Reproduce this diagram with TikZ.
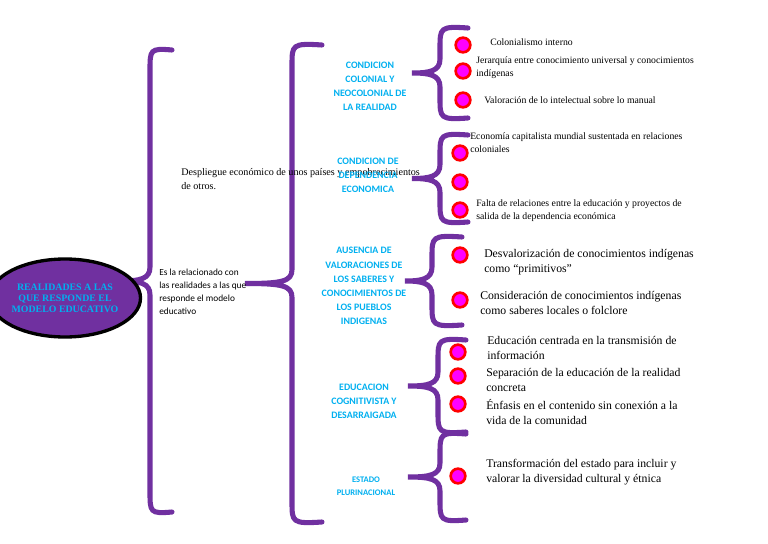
\documentclass[tikz,border=0pt]{standalone}
\usepackage{fontspec}
\setmainfont{Liberation Serif}
\newfontfamily\carlitofont{Carlito}
\usetikzlibrary{shapes.geometric}
\definecolor{purp}{HTML}{7030A0}
\definecolor{cyanb}{HTML}{00B0F0}
\definecolor{mag}{HTML}{FF00FF}
\newcommand{\mybrace}[5]{% x, top, bottom, tipx, endx
 \draw[purp,line width=3.8pt,line cap=round] (#5,#2) .. controls (#1,#2-2) and (#1,#2) .. (#1,#2+20)
  -- (#1,{(#2+#3)/2-14}) .. controls (#1,{(#2+#3)/2-2}) and (#1-10,{(#2+#3)/2}) .. (#4,{(#2+#3)/2})
  .. controls (#1-10,{(#2+#3)/2}) and (#1,{(#2+#3)/2+2}) .. (#1,{(#2+#3)/2+14})
  -- (#1,#3-20) .. controls (#1,#3) and (#1,#3+2) .. (#5,#3);}
\begin{document}
\begin{tikzpicture}[x=0.75pt,y=-0.75pt,
 cat/.style={text=cyanb,font=\carlitofont\bfseries\fontsize{7.4}{10.6}\selectfont,align=center},
 sm/.style={font=\fontsize{7.3}{9.6}\selectfont,align=left,anchor=west,inner sep=0},
 bg/.style={font=\fontsize{8.8}{11.6}\selectfont,align=left,anchor=west,inner sep=0},
 dot/.style={circle,draw=red,fill=mag,line width=2pt,minimum size=11pt,inner sep=0}]
\useasboundingbox (0,0) rectangle (768,543);
\fill[white] (0,0) rectangle (768,543);
\mybrace{150}{50}{512}{120}{172}
\mybrace{292}{45}{522}{245}{322}
\mybrace{440}{28}{118}{412}{468}
\mybrace{440}{135}{222}{412}{468}
\mybrace{432}{237}{325}{405}{462}
\mybrace{438}{340}{432}{408}{466}
\mybrace{440}{434}{520}{408}{466}
\node[ellipse,draw=black,fill=purp,line width=2.5pt,minimum width=116pt*0.75,minimum height=78pt*0.75,inner sep=0,
 text=cyanb,font=\bfseries\fontsize{7.4}{8.2}\selectfont,align=center] (root) at (65,298)
 {REALIDADES A LAS\\QUE RESPONDE EL\\MODELO EDUCATIVO};
\node[sm,font=\carlitofont\fontsize{7}{9.8}\selectfont] (es) at (159,292) {Es la relacionado con\\las realidades a las que\\responde el modelo\\educativo};
\node[sm,font=\fontsize{7.6}{10.2}\selectfont] (desp) at (181,179) {Despliegue económico de unos países y empobrecimientos\\de otros.};
\node[cat] (c1) at (370,86) {CONDICION\\COLONIAL Y\\NEOCOLONIAL DE\\LA REALIDAD};
\node[cat] (c2) at (368,175) {CONDICION DE\\DEPENDENCIA\\ECONOMICA};
\node[cat] (c3) at (364,286) {AUSENCIA DE\\VALORACIONES DE\\LOS SABERES Y\\CONOCIMIENTOS DE\\LOS PUEBLOS\\INDIGENAS};
\node[cat] (c4) at (364,401) {EDUCACION\\COGNITIVISTA Y\\DESARRAIGADA};
\node[cat,font=\carlitofont\bfseries\fontsize{6.4}{9.8}\selectfont] (c5) at (366,486) {ESTADO\\PLURINACIONAL};
\foreach \n/\x/\y in {d1/463/45,d2/463/71,d3/463/100,d4/460/153,d5/460/182,d6/460/210,d7/460/255,d8/460/300,d9/458/352,d10/458/376,d11/458/404,d12/458/476}
 \node[dot] (\n) at (\x,\y) {};
\node[sm] (t1) at (490,42) {Colonialismo interno};
\node[sm] (t2) at (476,68) {Jerarquía entre conocimiento universal y conocimientos\\indígenas};
\node[sm] (t3) at (484,100) {Valoración de lo intelectual sobre lo manual};
\node[sm] (t4) at (470,143) {Economía capitalista mundial sustentada en relaciones\\coloniales};
\node[sm] (t5) at (476,211) {Falta de relaciones entre la educación y proyectos de\\salida de la dependencia económica};
\node[bg] (t6) at (484,262) {Desvalorización de conocimientos indígenas\\como “primitivos”};
\node[bg] (t7) at (480,303) {Consideración de conocimientos indígenas\\como saberes locales o folclore};
\node[bg] (t8) at (487,348) {Educación centrada en la transmisión de\\información};
\node[bg] (t9) at (486,380) {Separación de la educación de la realidad\\concreta};
\node[bg] (t10) at (486,412) {Énfasis en el contenido sin conexión a la\\vida de la comunidad};
\node[bg] (t11) at (486,472) {Transformación del estado para incluir y\\valorar la diversidad cultural y étnica};
\end{tikzpicture}
\end{document}
